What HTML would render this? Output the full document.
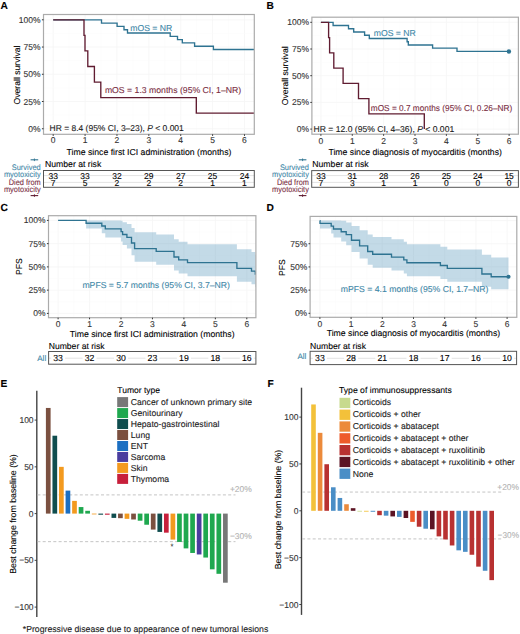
<!DOCTYPE html><html><head><meta charset="utf-8"><style>html,body{margin:0;padding:0;background:#fff;overflow:hidden}svg{display:block}text{font-family:"Liberation Sans",sans-serif;text-rendering:geometricPrecision}</style></head><body>
<svg width="520" height="634" viewBox="0 0 520 634">
<rect width="520" height="634" fill="#fff"/>
<line x1="53.20" y1="14.50" x2="53.20" y2="134.30" stroke="#f5f5f5" stroke-width="0.8"/>
<line x1="69.14" y1="14.50" x2="69.14" y2="134.30" stroke="#fafafa" stroke-width="0.5"/>
<line x1="85.08" y1="14.50" x2="85.08" y2="134.30" stroke="#f5f5f5" stroke-width="0.8"/>
<line x1="101.02" y1="14.50" x2="101.02" y2="134.30" stroke="#fafafa" stroke-width="0.5"/>
<line x1="116.96" y1="14.50" x2="116.96" y2="134.30" stroke="#f5f5f5" stroke-width="0.8"/>
<line x1="132.90" y1="14.50" x2="132.90" y2="134.30" stroke="#fafafa" stroke-width="0.5"/>
<line x1="148.84" y1="14.50" x2="148.84" y2="134.30" stroke="#f5f5f5" stroke-width="0.8"/>
<line x1="164.78" y1="14.50" x2="164.78" y2="134.30" stroke="#fafafa" stroke-width="0.5"/>
<line x1="180.72" y1="14.50" x2="180.72" y2="134.30" stroke="#f5f5f5" stroke-width="0.8"/>
<line x1="196.66" y1="14.50" x2="196.66" y2="134.30" stroke="#fafafa" stroke-width="0.5"/>
<line x1="212.60" y1="14.50" x2="212.60" y2="134.30" stroke="#f5f5f5" stroke-width="0.8"/>
<line x1="228.54" y1="14.50" x2="228.54" y2="134.30" stroke="#fafafa" stroke-width="0.5"/>
<line x1="244.48" y1="14.50" x2="244.48" y2="134.30" stroke="#f5f5f5" stroke-width="0.8"/>
<line x1="43.50" y1="128.75" x2="254.30" y2="128.75" stroke="#f5f5f5" stroke-width="0.8"/>
<line x1="43.50" y1="115.13" x2="254.30" y2="115.13" stroke="#fafafa" stroke-width="0.5"/>
<line x1="43.50" y1="101.51" x2="254.30" y2="101.51" stroke="#f5f5f5" stroke-width="0.8"/>
<line x1="43.50" y1="87.89" x2="254.30" y2="87.89" stroke="#fafafa" stroke-width="0.5"/>
<line x1="43.50" y1="74.28" x2="254.30" y2="74.28" stroke="#f5f5f5" stroke-width="0.8"/>
<line x1="43.50" y1="60.66" x2="254.30" y2="60.66" stroke="#fafafa" stroke-width="0.5"/>
<line x1="43.50" y1="47.04" x2="254.30" y2="47.04" stroke="#f5f5f5" stroke-width="0.8"/>
<line x1="43.50" y1="33.42" x2="254.30" y2="33.42" stroke="#fafafa" stroke-width="0.5"/>
<line x1="43.50" y1="19.80" x2="254.30" y2="19.80" stroke="#f5f5f5" stroke-width="0.8"/>
<clipPath id="cA"><rect x="43.5" y="14.5" width="210.8" height="119.80000000000001"/></clipPath>
<path d="M53.20,19.80 H101.50 V23.10 H117.10 V26.40 H124.00 V29.70 H127.50 V33.01 H170.20 V36.31 H177.50 V39.61 H182.30 V42.91 H194.60 V46.21 H213.40 V49.51 H254.30" fill="none" stroke="#2e7391" stroke-width="1.35" clip-path="url(#cA)"/>
<path d="M53.20,19.80 H84.00 V35.36 H85.00 V50.93 H87.80 V66.49 H94.40 V82.06 H100.80 V97.62 H196.30 V113.19 H254.30" fill="none" stroke="#601c31" stroke-width="1.35" clip-path="url(#cA)"/>
<rect x="43.50" y="14.50" width="210.80" height="119.80" fill="none" stroke="#ababab" stroke-width="1.2"/>
<line x1="41.90" y1="128.75" x2="43.50" y2="128.75" stroke="#333" stroke-width="1.0"/>
<text x="40.60" y="131.75" font-size="8.5" fill="#333333" stroke="#333333" stroke-width="0.1" text-anchor="end">0%</text>
<line x1="41.90" y1="101.51" x2="43.50" y2="101.51" stroke="#333" stroke-width="1.0"/>
<text x="40.60" y="104.51" font-size="8.5" fill="#333333" stroke="#333333" stroke-width="0.1" text-anchor="end">25%</text>
<line x1="41.90" y1="74.28" x2="43.50" y2="74.28" stroke="#333" stroke-width="1.0"/>
<text x="40.60" y="77.28" font-size="8.5" fill="#333333" stroke="#333333" stroke-width="0.1" text-anchor="end">50%</text>
<line x1="41.90" y1="47.04" x2="43.50" y2="47.04" stroke="#333" stroke-width="1.0"/>
<text x="40.60" y="50.04" font-size="8.5" fill="#333333" stroke="#333333" stroke-width="0.1" text-anchor="end">75%</text>
<line x1="41.90" y1="19.80" x2="43.50" y2="19.80" stroke="#333" stroke-width="1.0"/>
<text x="40.60" y="22.80" font-size="8.5" fill="#333333" stroke="#333333" stroke-width="0.1" text-anchor="end">100%</text>
<line x1="53.20" y1="134.30" x2="53.20" y2="135.90" stroke="#333" stroke-width="1.0"/>
<text x="53.20" y="143.20" font-size="8.5" fill="#333333" stroke="#333333" stroke-width="0.1" text-anchor="middle">0</text>
<line x1="85.08" y1="134.30" x2="85.08" y2="135.90" stroke="#333" stroke-width="1.0"/>
<text x="85.08" y="143.20" font-size="8.5" fill="#333333" stroke="#333333" stroke-width="0.1" text-anchor="middle">1</text>
<line x1="116.96" y1="134.30" x2="116.96" y2="135.90" stroke="#333" stroke-width="1.0"/>
<text x="116.96" y="143.20" font-size="8.5" fill="#333333" stroke="#333333" stroke-width="0.1" text-anchor="middle">2</text>
<line x1="148.84" y1="134.30" x2="148.84" y2="135.90" stroke="#333" stroke-width="1.0"/>
<text x="148.84" y="143.20" font-size="8.5" fill="#333333" stroke="#333333" stroke-width="0.1" text-anchor="middle">3</text>
<line x1="180.72" y1="134.30" x2="180.72" y2="135.90" stroke="#333" stroke-width="1.0"/>
<text x="180.72" y="143.20" font-size="8.5" fill="#333333" stroke="#333333" stroke-width="0.1" text-anchor="middle">4</text>
<line x1="212.60" y1="134.30" x2="212.60" y2="135.90" stroke="#333" stroke-width="1.0"/>
<text x="212.60" y="143.20" font-size="8.5" fill="#333333" stroke="#333333" stroke-width="0.1" text-anchor="middle">5</text>
<line x1="244.48" y1="134.30" x2="244.48" y2="135.90" stroke="#333" stroke-width="1.0"/>
<text x="244.48" y="143.20" font-size="8.5" fill="#333333" stroke="#333333" stroke-width="0.1" text-anchor="middle">6</text>
<text x="130.20" y="30.50" font-size="8.65" fill="#3f88a8" stroke="#3f88a8" stroke-width="0.1" textLength="42.1" lengthAdjust="spacingAndGlyphs">mOS = NR</text>
<text x="104.90" y="93.00" font-size="8.65" fill="#7a2d42" stroke="#7a2d42" stroke-width="0.1" textLength="136.3" lengthAdjust="spacingAndGlyphs">mOS = 1.3 months (95% CI, 1–NR)</text>
<text x="49.60" y="131.20" font-size="8.55" fill="#1a1a1a" stroke="#1a1a1a" stroke-width="0.1" textLength="134.2" lengthAdjust="spacingAndGlyphs">HR = 8.4 (95% CI, 3–23), <tspan font-style="italic">P</tspan> &lt; 0.001</text>
<text x="149.00" y="155.40" font-size="8.69" fill="#000" stroke="#000" stroke-width="0.1" text-anchor="middle" textLength="164.8" lengthAdjust="spacingAndGlyphs">Time since first ICI administration (months)</text>
<text x="19.90" y="75.00" font-size="8.62" fill="#000" stroke="#000" stroke-width="0.1" text-anchor="middle" textLength="58.9" lengthAdjust="spacingAndGlyphs" transform="rotate(-90 19.90 75.00)">Overall survival</text>
<text x="0.60" y="9.10" font-size="10.2" fill="#000" stroke="#000" stroke-width="0.1" font-weight="bold">A</text>
<text x="45.00" y="167.20" font-size="8.66" fill="#000" stroke="#000" stroke-width="0.1">Number at risk</text>
<line x1="43.50" y1="175.60" x2="254.30" y2="175.60" stroke="#cfcfcf" stroke-width="0.6"/>
<line x1="43.50" y1="182.40" x2="254.30" y2="182.40" stroke="#cfcfcf" stroke-width="0.6"/>
<rect x="43.50" y="170.50" width="210.80" height="16.80" fill="none" stroke="#555" stroke-width="1.0"/>
<text x="53.20" y="178.60" font-size="8.5" fill="#000" stroke="#000" stroke-width="0.1" text-anchor="middle">33</text>
<text x="53.20" y="185.60" font-size="8.5" fill="#000" stroke="#000" stroke-width="0.1" text-anchor="middle">7</text>
<text x="85.08" y="178.60" font-size="8.5" fill="#000" stroke="#000" stroke-width="0.1" text-anchor="middle">33</text>
<text x="85.08" y="185.60" font-size="8.5" fill="#000" stroke="#000" stroke-width="0.1" text-anchor="middle">5</text>
<text x="116.96" y="178.60" font-size="8.5" fill="#000" stroke="#000" stroke-width="0.1" text-anchor="middle">32</text>
<text x="116.96" y="185.60" font-size="8.5" fill="#000" stroke="#000" stroke-width="0.1" text-anchor="middle">2</text>
<text x="148.84" y="178.60" font-size="8.5" fill="#000" stroke="#000" stroke-width="0.1" text-anchor="middle">29</text>
<text x="148.84" y="185.60" font-size="8.5" fill="#000" stroke="#000" stroke-width="0.1" text-anchor="middle">2</text>
<text x="180.72" y="178.60" font-size="8.5" fill="#000" stroke="#000" stroke-width="0.1" text-anchor="middle">27</text>
<text x="180.72" y="185.60" font-size="8.5" fill="#000" stroke="#000" stroke-width="0.1" text-anchor="middle">2</text>
<text x="212.60" y="178.60" font-size="8.5" fill="#000" stroke="#000" stroke-width="0.1" text-anchor="middle">25</text>
<text x="212.60" y="185.60" font-size="8.5" fill="#000" stroke="#000" stroke-width="0.1" text-anchor="middle">1</text>
<text x="244.48" y="178.60" font-size="8.5" fill="#000" stroke="#000" stroke-width="0.1" text-anchor="middle">24</text>
<text x="244.48" y="185.60" font-size="8.5" fill="#000" stroke="#000" stroke-width="0.1" text-anchor="middle">1</text>
<text x="11.70" y="169.80" font-size="8.1" fill="#3f88a8" stroke="#3f88a8" stroke-width="0.1" textLength="29.0" lengthAdjust="spacingAndGlyphs">Survived</text>
<text x="3.90" y="176.60" font-size="8.1" fill="#3f88a8" stroke="#3f88a8" stroke-width="0.1" textLength="36.8" lengthAdjust="spacingAndGlyphs">myotoxicity</text>
<text x="8.70" y="185.00" font-size="8.1" fill="#7a2d42" stroke="#7a2d42" stroke-width="0.1" textLength="32.0" lengthAdjust="spacingAndGlyphs">Died from</text>
<text x="3.90" y="191.60" font-size="8.1" fill="#7a2d42" stroke="#7a2d42" stroke-width="0.1" textLength="36.8" lengthAdjust="spacingAndGlyphs">myotoxicity</text>
<line x1="30.60" y1="159.80" x2="38.20" y2="159.80" stroke="#2e7391" stroke-width="1.1"/>
<line x1="34.40" y1="158.50" x2="34.40" y2="161.10" stroke="#2e7391" stroke-width="0.9"/>
<line x1="30.60" y1="195.60" x2="38.20" y2="195.60" stroke="#601c31" stroke-width="1.1"/>
<line x1="34.40" y1="194.30" x2="34.40" y2="196.90" stroke="#601c31" stroke-width="0.9"/>
<line x1="320.90" y1="17.20" x2="320.90" y2="134.20" stroke="#f5f5f5" stroke-width="0.8"/>
<line x1="336.58" y1="17.20" x2="336.58" y2="134.20" stroke="#fafafa" stroke-width="0.5"/>
<line x1="352.27" y1="17.20" x2="352.27" y2="134.20" stroke="#f5f5f5" stroke-width="0.8"/>
<line x1="367.95" y1="17.20" x2="367.95" y2="134.20" stroke="#fafafa" stroke-width="0.5"/>
<line x1="383.64" y1="17.20" x2="383.64" y2="134.20" stroke="#f5f5f5" stroke-width="0.8"/>
<line x1="399.32" y1="17.20" x2="399.32" y2="134.20" stroke="#fafafa" stroke-width="0.5"/>
<line x1="415.01" y1="17.20" x2="415.01" y2="134.20" stroke="#f5f5f5" stroke-width="0.8"/>
<line x1="430.69" y1="17.20" x2="430.69" y2="134.20" stroke="#fafafa" stroke-width="0.5"/>
<line x1="446.38" y1="17.20" x2="446.38" y2="134.20" stroke="#f5f5f5" stroke-width="0.8"/>
<line x1="462.06" y1="17.20" x2="462.06" y2="134.20" stroke="#fafafa" stroke-width="0.5"/>
<line x1="477.75" y1="17.20" x2="477.75" y2="134.20" stroke="#f5f5f5" stroke-width="0.8"/>
<line x1="493.43" y1="17.20" x2="493.43" y2="134.20" stroke="#fafafa" stroke-width="0.5"/>
<line x1="509.12" y1="17.20" x2="509.12" y2="134.20" stroke="#f5f5f5" stroke-width="0.8"/>
<line x1="311.90" y1="129.10" x2="518.40" y2="129.10" stroke="#f5f5f5" stroke-width="0.8"/>
<line x1="311.90" y1="115.75" x2="518.40" y2="115.75" stroke="#fafafa" stroke-width="0.5"/>
<line x1="311.90" y1="102.40" x2="518.40" y2="102.40" stroke="#f5f5f5" stroke-width="0.8"/>
<line x1="311.90" y1="89.05" x2="518.40" y2="89.05" stroke="#fafafa" stroke-width="0.5"/>
<line x1="311.90" y1="75.70" x2="518.40" y2="75.70" stroke="#f5f5f5" stroke-width="0.8"/>
<line x1="311.90" y1="62.35" x2="518.40" y2="62.35" stroke="#fafafa" stroke-width="0.5"/>
<line x1="311.90" y1="49.00" x2="518.40" y2="49.00" stroke="#f5f5f5" stroke-width="0.8"/>
<line x1="311.90" y1="35.65" x2="518.40" y2="35.65" stroke="#fafafa" stroke-width="0.5"/>
<line x1="311.90" y1="22.30" x2="518.40" y2="22.30" stroke="#f5f5f5" stroke-width="0.8"/>
<clipPath id="cB"><rect x="311.9" y="17.2" width="206.5" height="116.99999999999999"/></clipPath>
<path d="M320.90,22.30 H333.10 V25.54 H348.50 V28.77 H353.70 V32.01 H364.60 V35.25 H369.30 V38.48 H407.10 V41.72 H408.30 V44.95 H432.60 V48.19 H457.00 V51.43 H508.90" fill="none" stroke="#2e7391" stroke-width="1.35"/>
<circle cx="508.9" cy="51.43" r="2.2" fill="#2e7391"/>
<path d="M320.90,22.30 H328.60 V37.56 H329.60 V52.81 H333.80 V68.07 H343.10 V83.33 H358.50 V98.59 H368.90 V113.84 H424.30 V129.10" fill="none" stroke="#601c31" stroke-width="1.35"/>
<rect x="311.90" y="17.20" width="206.50" height="117.00" fill="none" stroke="#ababab" stroke-width="1.2"/>
<line x1="310.30" y1="129.10" x2="311.90" y2="129.10" stroke="#333" stroke-width="1.0"/>
<text x="309.00" y="132.10" font-size="8.5" fill="#333333" stroke="#333333" stroke-width="0.1" text-anchor="end">0%</text>
<line x1="310.30" y1="102.40" x2="311.90" y2="102.40" stroke="#333" stroke-width="1.0"/>
<text x="309.00" y="105.40" font-size="8.5" fill="#333333" stroke="#333333" stroke-width="0.1" text-anchor="end">25%</text>
<line x1="310.30" y1="75.70" x2="311.90" y2="75.70" stroke="#333" stroke-width="1.0"/>
<text x="309.00" y="78.70" font-size="8.5" fill="#333333" stroke="#333333" stroke-width="0.1" text-anchor="end">50%</text>
<line x1="310.30" y1="49.00" x2="311.90" y2="49.00" stroke="#333" stroke-width="1.0"/>
<text x="309.00" y="52.00" font-size="8.5" fill="#333333" stroke="#333333" stroke-width="0.1" text-anchor="end">75%</text>
<line x1="310.30" y1="22.30" x2="311.90" y2="22.30" stroke="#333" stroke-width="1.0"/>
<text x="309.00" y="25.30" font-size="8.5" fill="#333333" stroke="#333333" stroke-width="0.1" text-anchor="end">100%</text>
<line x1="320.90" y1="134.20" x2="320.90" y2="135.80" stroke="#333" stroke-width="1.0"/>
<text x="320.90" y="144.20" font-size="8.5" fill="#333333" stroke="#333333" stroke-width="0.1" text-anchor="middle">0</text>
<line x1="352.27" y1="134.20" x2="352.27" y2="135.80" stroke="#333" stroke-width="1.0"/>
<text x="352.27" y="144.20" font-size="8.5" fill="#333333" stroke="#333333" stroke-width="0.1" text-anchor="middle">1</text>
<line x1="383.64" y1="134.20" x2="383.64" y2="135.80" stroke="#333" stroke-width="1.0"/>
<text x="383.64" y="144.20" font-size="8.5" fill="#333333" stroke="#333333" stroke-width="0.1" text-anchor="middle">2</text>
<line x1="415.01" y1="134.20" x2="415.01" y2="135.80" stroke="#333" stroke-width="1.0"/>
<text x="415.01" y="144.20" font-size="8.5" fill="#333333" stroke="#333333" stroke-width="0.1" text-anchor="middle">3</text>
<line x1="446.38" y1="134.20" x2="446.38" y2="135.80" stroke="#333" stroke-width="1.0"/>
<text x="446.38" y="144.20" font-size="8.5" fill="#333333" stroke="#333333" stroke-width="0.1" text-anchor="middle">4</text>
<line x1="477.75" y1="134.20" x2="477.75" y2="135.80" stroke="#333" stroke-width="1.0"/>
<text x="477.75" y="144.20" font-size="8.5" fill="#333333" stroke="#333333" stroke-width="0.1" text-anchor="middle">5</text>
<line x1="509.12" y1="134.20" x2="509.12" y2="135.80" stroke="#333" stroke-width="1.0"/>
<text x="509.12" y="144.20" font-size="8.5" fill="#333333" stroke="#333333" stroke-width="0.1" text-anchor="middle">6</text>
<text x="373.70" y="35.60" font-size="8.65" fill="#3f88a8" stroke="#3f88a8" stroke-width="0.1" textLength="42.1" lengthAdjust="spacingAndGlyphs">mOS = NR</text>
<text x="370.80" y="110.60" font-size="8.65" fill="#7a2d42" stroke="#7a2d42" stroke-width="0.1" textLength="141.4" lengthAdjust="spacingAndGlyphs">mOS = 0.7 months (95% CI, 0.26–NR)</text>
<text x="313.60" y="131.80" font-size="8.55" fill="#1a1a1a" stroke="#1a1a1a" stroke-width="0.1" textLength="140.6" lengthAdjust="spacingAndGlyphs">HR = 12.0 (95% CI, 4–36), <tspan font-style="italic">P</tspan> &lt; 0.001</text>
<text x="415.20" y="155.10" font-size="8.69" fill="#000" stroke="#000" stroke-width="0.1" text-anchor="middle" textLength="173.5" lengthAdjust="spacingAndGlyphs">Time since diagnosis of myocarditis (months)</text>
<text x="288.40" y="75.70" font-size="8.62" fill="#000" stroke="#000" stroke-width="0.1" text-anchor="middle" textLength="58.9" lengthAdjust="spacingAndGlyphs" transform="rotate(-90 288.40 75.70)">Overall survival</text>
<text x="266.40" y="9.10" font-size="10.2" fill="#000" stroke="#000" stroke-width="0.1" font-weight="bold">B</text>
<text x="312.30" y="166.90" font-size="8.66" fill="#000" stroke="#000" stroke-width="0.1">Number at risk</text>
<line x1="311.70" y1="175.60" x2="518.40" y2="175.60" stroke="#cfcfcf" stroke-width="0.6"/>
<line x1="311.70" y1="182.40" x2="518.40" y2="182.40" stroke="#cfcfcf" stroke-width="0.6"/>
<rect x="311.70" y="170.60" width="206.70" height="16.70" fill="none" stroke="#555" stroke-width="1.0"/>
<text x="320.90" y="178.60" font-size="8.5" fill="#000" stroke="#000" stroke-width="0.1" text-anchor="middle">33</text>
<text x="320.90" y="185.60" font-size="8.5" fill="#000" stroke="#000" stroke-width="0.1" text-anchor="middle">7</text>
<text x="352.27" y="178.60" font-size="8.5" fill="#000" stroke="#000" stroke-width="0.1" text-anchor="middle">31</text>
<text x="352.27" y="185.60" font-size="8.5" fill="#000" stroke="#000" stroke-width="0.1" text-anchor="middle">3</text>
<text x="383.64" y="178.60" font-size="8.5" fill="#000" stroke="#000" stroke-width="0.1" text-anchor="middle">28</text>
<text x="383.64" y="185.60" font-size="8.5" fill="#000" stroke="#000" stroke-width="0.1" text-anchor="middle">1</text>
<text x="415.01" y="178.60" font-size="8.5" fill="#000" stroke="#000" stroke-width="0.1" text-anchor="middle">26</text>
<text x="415.01" y="185.60" font-size="8.5" fill="#000" stroke="#000" stroke-width="0.1" text-anchor="middle">1</text>
<text x="446.38" y="178.60" font-size="8.5" fill="#000" stroke="#000" stroke-width="0.1" text-anchor="middle">25</text>
<text x="446.38" y="185.60" font-size="8.5" fill="#000" stroke="#000" stroke-width="0.1" text-anchor="middle">0</text>
<text x="477.75" y="178.60" font-size="8.5" fill="#000" stroke="#000" stroke-width="0.1" text-anchor="middle">24</text>
<text x="477.75" y="185.60" font-size="8.5" fill="#000" stroke="#000" stroke-width="0.1" text-anchor="middle">0</text>
<text x="509.12" y="178.60" font-size="8.5" fill="#000" stroke="#000" stroke-width="0.1" text-anchor="middle">15</text>
<text x="509.12" y="185.60" font-size="8.5" fill="#000" stroke="#000" stroke-width="0.1" text-anchor="middle">0</text>
<text x="279.90" y="169.80" font-size="8.1" fill="#3f88a8" stroke="#3f88a8" stroke-width="0.1" textLength="29.0" lengthAdjust="spacingAndGlyphs">Survived</text>
<text x="272.10" y="176.60" font-size="8.1" fill="#3f88a8" stroke="#3f88a8" stroke-width="0.1" textLength="36.8" lengthAdjust="spacingAndGlyphs">myotoxicity</text>
<text x="276.90" y="185.00" font-size="8.1" fill="#7a2d42" stroke="#7a2d42" stroke-width="0.1" textLength="32.0" lengthAdjust="spacingAndGlyphs">Died from</text>
<text x="272.10" y="191.60" font-size="8.1" fill="#7a2d42" stroke="#7a2d42" stroke-width="0.1" textLength="36.8" lengthAdjust="spacingAndGlyphs">myotoxicity</text>
<line x1="298.80" y1="159.80" x2="306.40" y2="159.80" stroke="#2e7391" stroke-width="1.1"/>
<line x1="302.60" y1="158.50" x2="302.60" y2="161.10" stroke="#2e7391" stroke-width="0.9"/>
<line x1="298.80" y1="195.60" x2="306.40" y2="195.60" stroke="#601c31" stroke-width="1.1"/>
<line x1="302.60" y1="194.30" x2="302.60" y2="196.90" stroke="#601c31" stroke-width="0.9"/>
<line x1="58.10" y1="215.70" x2="58.10" y2="317.70" stroke="#f5f5f5" stroke-width="0.8"/>
<line x1="73.83" y1="215.70" x2="73.83" y2="317.70" stroke="#fafafa" stroke-width="0.5"/>
<line x1="89.55" y1="215.70" x2="89.55" y2="317.70" stroke="#f5f5f5" stroke-width="0.8"/>
<line x1="105.28" y1="215.70" x2="105.28" y2="317.70" stroke="#fafafa" stroke-width="0.5"/>
<line x1="121.00" y1="215.70" x2="121.00" y2="317.70" stroke="#f5f5f5" stroke-width="0.8"/>
<line x1="136.72" y1="215.70" x2="136.72" y2="317.70" stroke="#fafafa" stroke-width="0.5"/>
<line x1="152.45" y1="215.70" x2="152.45" y2="317.70" stroke="#f5f5f5" stroke-width="0.8"/>
<line x1="168.18" y1="215.70" x2="168.18" y2="317.70" stroke="#fafafa" stroke-width="0.5"/>
<line x1="183.90" y1="215.70" x2="183.90" y2="317.70" stroke="#f5f5f5" stroke-width="0.8"/>
<line x1="199.62" y1="215.70" x2="199.62" y2="317.70" stroke="#fafafa" stroke-width="0.5"/>
<line x1="215.35" y1="215.70" x2="215.35" y2="317.70" stroke="#f5f5f5" stroke-width="0.8"/>
<line x1="231.07" y1="215.70" x2="231.07" y2="317.70" stroke="#fafafa" stroke-width="0.5"/>
<line x1="246.80" y1="215.70" x2="246.80" y2="317.70" stroke="#f5f5f5" stroke-width="0.8"/>
<line x1="48.50" y1="313.40" x2="255.90" y2="313.40" stroke="#f5f5f5" stroke-width="0.8"/>
<line x1="48.50" y1="301.77" x2="255.90" y2="301.77" stroke="#fafafa" stroke-width="0.5"/>
<line x1="48.50" y1="290.15" x2="255.90" y2="290.15" stroke="#f5f5f5" stroke-width="0.8"/>
<line x1="48.50" y1="278.52" x2="255.90" y2="278.52" stroke="#fafafa" stroke-width="0.5"/>
<line x1="48.50" y1="266.90" x2="255.90" y2="266.90" stroke="#f5f5f5" stroke-width="0.8"/>
<line x1="48.50" y1="255.27" x2="255.90" y2="255.27" stroke="#fafafa" stroke-width="0.5"/>
<line x1="48.50" y1="243.65" x2="255.90" y2="243.65" stroke="#f5f5f5" stroke-width="0.8"/>
<line x1="48.50" y1="232.03" x2="255.90" y2="232.03" stroke="#fafafa" stroke-width="0.5"/>
<line x1="48.50" y1="220.40" x2="255.90" y2="220.40" stroke="#f5f5f5" stroke-width="0.8"/>
<clipPath id="cC"><rect x="48.5" y="215.7" width="207.4" height="102.0"/></clipPath>
<path d="M58.10,220.40 L86.10,220.40 L86.10,220.40 L101.80,220.40 L101.80,220.40 L105.30,220.40 L105.30,220.40 L121.10,220.40 L121.10,220.63 L122.60,220.63 L122.60,222.25 L126.90,222.25 L126.90,224.03 L131.50,224.03 L131.50,227.95 L134.60,227.95 L134.60,232.23 L156.20,232.23 L156.20,234.48 L174.00,234.48 L174.00,239.19 L178.70,239.19 L178.70,241.63 L187.50,241.63 L187.50,244.14 L236.90,244.14 L236.90,249.30 L251.50,249.30 L251.50,251.97 L255.30,251.97 L255.30,254.69 L255.90,254.69 L255.90,286.89 L255.30,286.89 L255.30,284.31 L251.50,284.31 L251.50,281.68 L236.90,281.68 L236.90,276.25 L187.50,276.25 L187.50,273.45 L178.70,273.45 L178.70,270.59 L174.00,270.59 L174.00,264.69 L156.20,264.69 L156.20,261.64 L134.60,261.64 L134.60,255.31 L131.50,255.31 L131.50,248.61 L126.90,248.61 L126.90,245.09 L122.60,245.09 L122.60,241.40 L121.10,241.40 L121.10,237.50 L105.30,237.50 L105.30,233.29 L101.80,233.29 L101.80,228.50 L86.10,228.50 L86.10,220.40 L58.10,220.40 Z" fill="#4a8fb5" fill-opacity="0.33" clip-path="url(#cC)"/>
<path d="M58.10,220.40 H86.10 V223.22 H101.80 V226.04 H105.30 V228.85 H121.10 V231.67 H122.60 V234.49 H126.90 V237.31 H131.50 V242.95 H134.60 V248.58 H156.20 V251.40 H174.00 V257.04 H178.70 V259.85 H187.50 V262.67 H236.90 V268.31 H251.50 V271.13 H255.30 V273.95 H255.90" fill="none" stroke="#2e7391" stroke-width="1.35" clip-path="url(#cC)"/>
<rect x="48.50" y="215.70" width="207.40" height="102.00" fill="none" stroke="#ababab" stroke-width="1.2"/>
<line x1="46.90" y1="313.40" x2="48.50" y2="313.40" stroke="#333" stroke-width="1.0"/>
<text x="45.60" y="316.40" font-size="8.5" fill="#333333" stroke="#333333" stroke-width="0.1" text-anchor="end">0%</text>
<line x1="46.90" y1="290.15" x2="48.50" y2="290.15" stroke="#333" stroke-width="1.0"/>
<text x="45.60" y="293.15" font-size="8.5" fill="#333333" stroke="#333333" stroke-width="0.1" text-anchor="end">25%</text>
<line x1="46.90" y1="266.90" x2="48.50" y2="266.90" stroke="#333" stroke-width="1.0"/>
<text x="45.60" y="269.90" font-size="8.5" fill="#333333" stroke="#333333" stroke-width="0.1" text-anchor="end">50%</text>
<line x1="46.90" y1="243.65" x2="48.50" y2="243.65" stroke="#333" stroke-width="1.0"/>
<text x="45.60" y="246.65" font-size="8.5" fill="#333333" stroke="#333333" stroke-width="0.1" text-anchor="end">75%</text>
<line x1="46.90" y1="220.40" x2="48.50" y2="220.40" stroke="#333" stroke-width="1.0"/>
<text x="45.60" y="223.40" font-size="8.5" fill="#333333" stroke="#333333" stroke-width="0.1" text-anchor="end">100%</text>
<line x1="58.10" y1="317.70" x2="58.10" y2="319.30" stroke="#333" stroke-width="1.0"/>
<text x="58.10" y="327.20" font-size="8.5" fill="#333333" stroke="#333333" stroke-width="0.1" text-anchor="middle">0</text>
<line x1="89.55" y1="317.70" x2="89.55" y2="319.30" stroke="#333" stroke-width="1.0"/>
<text x="89.55" y="327.20" font-size="8.5" fill="#333333" stroke="#333333" stroke-width="0.1" text-anchor="middle">1</text>
<line x1="121.00" y1="317.70" x2="121.00" y2="319.30" stroke="#333" stroke-width="1.0"/>
<text x="121.00" y="327.20" font-size="8.5" fill="#333333" stroke="#333333" stroke-width="0.1" text-anchor="middle">2</text>
<line x1="152.45" y1="317.70" x2="152.45" y2="319.30" stroke="#333" stroke-width="1.0"/>
<text x="152.45" y="327.20" font-size="8.5" fill="#333333" stroke="#333333" stroke-width="0.1" text-anchor="middle">3</text>
<line x1="183.90" y1="317.70" x2="183.90" y2="319.30" stroke="#333" stroke-width="1.0"/>
<text x="183.90" y="327.20" font-size="8.5" fill="#333333" stroke="#333333" stroke-width="0.1" text-anchor="middle">4</text>
<line x1="215.35" y1="317.70" x2="215.35" y2="319.30" stroke="#333" stroke-width="1.0"/>
<text x="215.35" y="327.20" font-size="8.5" fill="#333333" stroke="#333333" stroke-width="0.1" text-anchor="middle">5</text>
<line x1="246.80" y1="317.70" x2="246.80" y2="319.30" stroke="#333" stroke-width="1.0"/>
<text x="246.80" y="327.20" font-size="8.5" fill="#333333" stroke="#333333" stroke-width="0.1" text-anchor="middle">6</text>
<text x="82.40" y="288.10" font-size="8.65" fill="#3f88a8" stroke="#3f88a8" stroke-width="0.1" textLength="147.6" lengthAdjust="spacingAndGlyphs">mPFS = 5.7 months (95% CI, 3.7–NR)</text>
<text x="152.20" y="336.60" font-size="8.69" fill="#000" stroke="#000" stroke-width="0.1" text-anchor="middle" textLength="164.8" lengthAdjust="spacingAndGlyphs">Time since first ICI administration (months)</text>
<text x="22.20" y="266.70" font-size="8.62" fill="#000" stroke="#000" stroke-width="0.1" text-anchor="middle" transform="rotate(-90 22.20 266.70)">PFS</text>
<text x="0.60" y="211.20" font-size="10.2" fill="#000" stroke="#000" stroke-width="0.1" font-weight="bold">C</text>
<text x="48.70" y="349.20" font-size="8.6" fill="#000" stroke="#000" stroke-width="0.1">Number at risk</text>
<line x1="48.60" y1="358.20" x2="255.90" y2="358.20" stroke="#cfcfcf" stroke-width="0.6"/>
<rect x="51.10" y="354.70" width="14.00" height="7.00" fill="#fff"/>
<rect x="82.55" y="354.70" width="14.00" height="7.00" fill="#fff"/>
<rect x="114.00" y="354.70" width="14.00" height="7.00" fill="#fff"/>
<rect x="145.45" y="354.70" width="14.00" height="7.00" fill="#fff"/>
<rect x="176.90" y="354.70" width="14.00" height="7.00" fill="#fff"/>
<rect x="208.35" y="354.70" width="14.00" height="7.00" fill="#fff"/>
<rect x="239.80" y="354.70" width="14.00" height="7.00" fill="#fff"/>
<rect x="48.60" y="351.50" width="207.30" height="12.70" fill="none" stroke="#555" stroke-width="1.0"/>
<text x="58.10" y="360.90" font-size="8.7" fill="#000" stroke="#000" stroke-width="0.1" text-anchor="middle">33</text>
<text x="89.55" y="360.90" font-size="8.7" fill="#000" stroke="#000" stroke-width="0.1" text-anchor="middle">32</text>
<text x="121.00" y="360.90" font-size="8.7" fill="#000" stroke="#000" stroke-width="0.1" text-anchor="middle">30</text>
<text x="152.45" y="360.90" font-size="8.7" fill="#000" stroke="#000" stroke-width="0.1" text-anchor="middle">23</text>
<text x="183.90" y="360.90" font-size="8.7" fill="#000" stroke="#000" stroke-width="0.1" text-anchor="middle">19</text>
<text x="215.35" y="360.90" font-size="8.7" fill="#000" stroke="#000" stroke-width="0.1" text-anchor="middle">18</text>
<text x="246.80" y="360.90" font-size="8.7" fill="#000" stroke="#000" stroke-width="0.1" text-anchor="middle">16</text>
<text x="46.20" y="361.00" font-size="8.1" fill="#3f88a8" stroke="#3f88a8" stroke-width="0.1" text-anchor="end">All</text>
<line x1="319.90" y1="216.40" x2="319.90" y2="317.30" stroke="#f5f5f5" stroke-width="0.8"/>
<line x1="335.50" y1="216.40" x2="335.50" y2="317.30" stroke="#fafafa" stroke-width="0.5"/>
<line x1="351.10" y1="216.40" x2="351.10" y2="317.30" stroke="#f5f5f5" stroke-width="0.8"/>
<line x1="366.70" y1="216.40" x2="366.70" y2="317.30" stroke="#fafafa" stroke-width="0.5"/>
<line x1="382.30" y1="216.40" x2="382.30" y2="317.30" stroke="#f5f5f5" stroke-width="0.8"/>
<line x1="397.90" y1="216.40" x2="397.90" y2="317.30" stroke="#fafafa" stroke-width="0.5"/>
<line x1="413.50" y1="216.40" x2="413.50" y2="317.30" stroke="#f5f5f5" stroke-width="0.8"/>
<line x1="429.10" y1="216.40" x2="429.10" y2="317.30" stroke="#fafafa" stroke-width="0.5"/>
<line x1="444.70" y1="216.40" x2="444.70" y2="317.30" stroke="#f5f5f5" stroke-width="0.8"/>
<line x1="460.30" y1="216.40" x2="460.30" y2="317.30" stroke="#fafafa" stroke-width="0.5"/>
<line x1="475.90" y1="216.40" x2="475.90" y2="317.30" stroke="#f5f5f5" stroke-width="0.8"/>
<line x1="491.50" y1="216.40" x2="491.50" y2="317.30" stroke="#fafafa" stroke-width="0.5"/>
<line x1="507.10" y1="216.40" x2="507.10" y2="317.30" stroke="#f5f5f5" stroke-width="0.8"/>
<line x1="310.10" y1="313.30" x2="516.80" y2="313.30" stroke="#f5f5f5" stroke-width="0.8"/>
<line x1="310.10" y1="301.71" x2="516.80" y2="301.71" stroke="#fafafa" stroke-width="0.5"/>
<line x1="310.10" y1="290.11" x2="516.80" y2="290.11" stroke="#f5f5f5" stroke-width="0.8"/>
<line x1="310.10" y1="278.52" x2="516.80" y2="278.52" stroke="#fafafa" stroke-width="0.5"/>
<line x1="310.10" y1="266.93" x2="516.80" y2="266.93" stroke="#f5f5f5" stroke-width="0.8"/>
<line x1="310.10" y1="255.33" x2="516.80" y2="255.33" stroke="#fafafa" stroke-width="0.5"/>
<line x1="310.10" y1="243.74" x2="516.80" y2="243.74" stroke="#f5f5f5" stroke-width="0.8"/>
<line x1="310.10" y1="232.14" x2="516.80" y2="232.14" stroke="#fafafa" stroke-width="0.5"/>
<line x1="310.10" y1="220.55" x2="516.80" y2="220.55" stroke="#f5f5f5" stroke-width="0.8"/>
<clipPath id="cD"><rect x="310.1" y="216.4" width="206.69999999999993" height="100.9"/></clipPath>
<path d="M319.90,220.55 L320.00,220.55 L320.00,220.55 L331.20,220.55 L331.20,220.55 L333.50,220.55 L333.50,220.55 L341.20,220.55 L341.20,220.78 L346.20,220.78 L346.20,222.40 L351.50,222.40 L351.50,226.07 L359.60,226.07 L359.60,230.17 L367.70,230.17 L367.70,234.60 L372.70,234.60 L372.70,236.91 L391.50,236.91 L391.50,239.29 L403.80,239.29 L403.80,241.73 L406.90,241.73 L406.90,244.22 L440.40,244.22 L440.40,246.77 L447.30,246.77 L447.30,249.38 L481.90,249.38 L481.90,254.75 L491.20,254.75 L491.20,257.51 L508.50,257.51 L508.50,289.37 L491.20,289.37 L491.20,286.86 L481.90,286.86 L481.90,281.66 L447.30,281.66 L447.30,278.98 L440.40,278.98 L440.40,276.25 L406.90,276.25 L406.90,273.46 L403.80,273.46 L403.80,270.61 L391.50,270.61 L391.50,267.70 L372.70,267.70 L372.70,264.72 L367.70,264.72 L367.70,258.56 L359.60,258.56 L359.60,252.08 L351.50,252.08 L351.50,245.17 L346.20,245.17 L346.20,241.49 L341.20,241.49 L341.20,237.61 L333.50,237.61 L333.50,233.40 L331.20,233.40 L331.20,228.62 L320.00,228.62 L320.00,220.55 L319.90,220.55 Z" fill="#4a8fb5" fill-opacity="0.33" clip-path="url(#cD)"/>
<path d="M319.90,220.55 H320.00 V223.36 H331.20 V226.17 H333.50 V228.98 H341.20 V231.79 H346.20 V234.60 H351.50 V240.22 H359.60 V245.85 H367.70 V251.47 H372.70 V254.28 H391.50 V257.09 H403.80 V259.90 H406.90 V262.71 H440.40 V265.52 H447.30 V268.33 H481.90 V273.95 H491.20 V276.76 H508.50" fill="none" stroke="#2e7391" stroke-width="1.35" clip-path="url(#cD)"/>
<circle cx="508.50" cy="276.76" r="2.1" fill="#2e7391"/>
<rect x="310.10" y="216.40" width="206.70" height="100.90" fill="none" stroke="#ababab" stroke-width="1.2"/>
<line x1="308.50" y1="313.30" x2="310.10" y2="313.30" stroke="#333" stroke-width="1.0"/>
<text x="307.20" y="316.30" font-size="8.5" fill="#333333" stroke="#333333" stroke-width="0.1" text-anchor="end">0%</text>
<line x1="308.50" y1="290.11" x2="310.10" y2="290.11" stroke="#333" stroke-width="1.0"/>
<text x="307.20" y="293.11" font-size="8.5" fill="#333333" stroke="#333333" stroke-width="0.1" text-anchor="end">25%</text>
<line x1="308.50" y1="266.93" x2="310.10" y2="266.93" stroke="#333" stroke-width="1.0"/>
<text x="307.20" y="269.93" font-size="8.5" fill="#333333" stroke="#333333" stroke-width="0.1" text-anchor="end">50%</text>
<line x1="308.50" y1="243.74" x2="310.10" y2="243.74" stroke="#333" stroke-width="1.0"/>
<text x="307.20" y="246.74" font-size="8.5" fill="#333333" stroke="#333333" stroke-width="0.1" text-anchor="end">75%</text>
<line x1="319.90" y1="317.30" x2="319.90" y2="318.90" stroke="#333" stroke-width="1.0"/>
<text x="319.90" y="327.30" font-size="8.5" fill="#333333" stroke="#333333" stroke-width="0.1" text-anchor="middle">0</text>
<line x1="351.10" y1="317.30" x2="351.10" y2="318.90" stroke="#333" stroke-width="1.0"/>
<text x="351.10" y="327.30" font-size="8.5" fill="#333333" stroke="#333333" stroke-width="0.1" text-anchor="middle">1</text>
<line x1="382.30" y1="317.30" x2="382.30" y2="318.90" stroke="#333" stroke-width="1.0"/>
<text x="382.30" y="327.30" font-size="8.5" fill="#333333" stroke="#333333" stroke-width="0.1" text-anchor="middle">2</text>
<line x1="413.50" y1="317.30" x2="413.50" y2="318.90" stroke="#333" stroke-width="1.0"/>
<text x="413.50" y="327.30" font-size="8.5" fill="#333333" stroke="#333333" stroke-width="0.1" text-anchor="middle">3</text>
<line x1="444.70" y1="317.30" x2="444.70" y2="318.90" stroke="#333" stroke-width="1.0"/>
<text x="444.70" y="327.30" font-size="8.5" fill="#333333" stroke="#333333" stroke-width="0.1" text-anchor="middle">4</text>
<line x1="475.90" y1="317.30" x2="475.90" y2="318.90" stroke="#333" stroke-width="1.0"/>
<text x="475.90" y="327.30" font-size="8.5" fill="#333333" stroke="#333333" stroke-width="0.1" text-anchor="middle">5</text>
<line x1="507.10" y1="317.30" x2="507.10" y2="318.90" stroke="#333" stroke-width="1.0"/>
<text x="507.10" y="327.30" font-size="8.5" fill="#333333" stroke="#333333" stroke-width="0.1" text-anchor="middle">6</text>
<text x="340.80" y="291.90" font-size="8.65" fill="#3f88a8" stroke="#3f88a8" stroke-width="0.1" textLength="147.6" lengthAdjust="spacingAndGlyphs">mPFS = 4.1 months (95% CI, 1.7–NR)</text>
<text x="413.45" y="336.20" font-size="8.69" fill="#000" stroke="#000" stroke-width="0.1" text-anchor="middle" textLength="173.5" lengthAdjust="spacingAndGlyphs">Time since diagnosis of myocarditis (months)</text>
<text x="285.20" y="267.50" font-size="8.62" fill="#000" stroke="#000" stroke-width="0.1" text-anchor="middle" transform="rotate(-90 285.20 267.50)">PFS</text>
<text x="266.40" y="211.10" font-size="10.2" fill="#000" stroke="#000" stroke-width="0.1" font-weight="bold">D</text>
<text x="310.10" y="348.60" font-size="8.6" fill="#000" stroke="#000" stroke-width="0.1">Number at risk</text>
<line x1="310.10" y1="358.30" x2="516.60" y2="358.30" stroke="#cfcfcf" stroke-width="0.6"/>
<rect x="312.90" y="354.80" width="14.00" height="7.00" fill="#fff"/>
<rect x="344.10" y="354.80" width="14.00" height="7.00" fill="#fff"/>
<rect x="375.30" y="354.80" width="14.00" height="7.00" fill="#fff"/>
<rect x="406.50" y="354.80" width="14.00" height="7.00" fill="#fff"/>
<rect x="437.70" y="354.80" width="14.00" height="7.00" fill="#fff"/>
<rect x="468.90" y="354.80" width="14.00" height="7.00" fill="#fff"/>
<rect x="500.10" y="354.80" width="14.00" height="7.00" fill="#fff"/>
<rect x="310.10" y="351.30" width="206.50" height="13.30" fill="none" stroke="#555" stroke-width="1.0"/>
<text x="319.90" y="360.70" font-size="8.7" fill="#000" stroke="#000" stroke-width="0.1" text-anchor="middle">33</text>
<text x="351.10" y="360.70" font-size="8.7" fill="#000" stroke="#000" stroke-width="0.1" text-anchor="middle">28</text>
<text x="382.30" y="360.70" font-size="8.7" fill="#000" stroke="#000" stroke-width="0.1" text-anchor="middle">21</text>
<text x="413.50" y="360.70" font-size="8.7" fill="#000" stroke="#000" stroke-width="0.1" text-anchor="middle">18</text>
<text x="444.70" y="360.70" font-size="8.7" fill="#000" stroke="#000" stroke-width="0.1" text-anchor="middle">17</text>
<text x="475.90" y="360.70" font-size="8.7" fill="#000" stroke="#000" stroke-width="0.1" text-anchor="middle">16</text>
<text x="507.10" y="360.70" font-size="8.7" fill="#000" stroke="#000" stroke-width="0.1" text-anchor="middle">10</text>
<text x="306.40" y="359.30" font-size="8.1" fill="#3f88a8" stroke="#3f88a8" stroke-width="0.1" text-anchor="end">All</text>
<line x1="36.8" y1="390.8" x2="36.8" y2="616.9" stroke="#444" stroke-width="1.4"/>
<line x1="34.60" y1="420.10" x2="36.80" y2="420.10" stroke="#333" stroke-width="0.9"/>
<text x="33.60" y="423.10" font-size="8.5" fill="#333333" stroke="#333333" stroke-width="0.1" text-anchor="end">100</text>
<line x1="34.60" y1="466.85" x2="36.80" y2="466.85" stroke="#333" stroke-width="0.9"/>
<text x="33.60" y="469.85" font-size="8.5" fill="#333333" stroke="#333333" stroke-width="0.1" text-anchor="end">50</text>
<line x1="34.60" y1="513.60" x2="36.80" y2="513.60" stroke="#333" stroke-width="0.9"/>
<text x="33.60" y="516.60" font-size="8.5" fill="#333333" stroke="#333333" stroke-width="0.1" text-anchor="end">0</text>
<line x1="34.60" y1="560.35" x2="36.80" y2="560.35" stroke="#333" stroke-width="0.9"/>
<text x="33.60" y="563.35" font-size="8.5" fill="#333333" stroke="#333333" stroke-width="0.1" text-anchor="end">−50</text>
<line x1="34.60" y1="607.10" x2="36.80" y2="607.10" stroke="#333" stroke-width="0.9"/>
<text x="33.60" y="610.10" font-size="8.5" fill="#333333" stroke="#333333" stroke-width="0.1" text-anchor="end">−100</text>
<line x1="37.40" y1="494.90" x2="235.50" y2="494.90" stroke="#bdbdbd" stroke-width="0.9" stroke-dasharray="3,2.3"/>
<line x1="37.40" y1="541.65" x2="235.50" y2="541.65" stroke="#bdbdbd" stroke-width="0.9" stroke-dasharray="3,2.3"/>
<text x="229.90" y="492.40" font-size="8.47" fill="#b3b3b3" stroke="#b3b3b3" stroke-width="0.1" textLength="21.9" lengthAdjust="spacingAndGlyphs">+20%</text>
<text x="229.90" y="539.20" font-size="8.47" fill="#b3b3b3" stroke="#b3b3b3" stroke-width="0.1" textLength="21.9" lengthAdjust="spacingAndGlyphs">−30%</text>
<rect x="45.90" y="407.95" width="4.70" height="105.65" fill="#7b5040"/>
<rect x="52.46" y="435.71" width="4.70" height="77.89" fill="#0f4d4e"/>
<rect x="59.02" y="466.85" width="4.70" height="46.75" fill="#f39a1f"/>
<rect x="65.58" y="490.60" width="4.70" height="23.00" fill="#1b6fc2"/>
<rect x="72.14" y="500.88" width="4.70" height="12.72" fill="#f39a1f"/>
<rect x="78.70" y="507.06" width="4.70" height="6.55" fill="#1fa84f"/>
<rect x="85.26" y="510.80" width="4.70" height="2.81" fill="#1fa84f"/>
<rect x="91.82" y="513.60" width="4.70" height="0.80" fill="#f39a1f"/>
<rect x="98.38" y="513.60" width="4.70" height="1.12" fill="#0f4d4e"/>
<rect x="104.94" y="513.60" width="4.70" height="1.12" fill="#c71f3b"/>
<rect x="111.50" y="513.60" width="4.70" height="4.30" fill="#0f4d4e"/>
<rect x="118.06" y="513.60" width="4.70" height="4.58" fill="#7b5040"/>
<rect x="124.62" y="513.60" width="4.70" height="5.24" fill="#f39a1f"/>
<rect x="131.18" y="513.60" width="4.70" height="5.89" fill="#7b5040"/>
<rect x="137.74" y="513.60" width="4.70" height="7.11" fill="#1fa84f"/>
<rect x="144.30" y="513.60" width="4.70" height="11.13" fill="#1fa84f"/>
<rect x="150.86" y="513.60" width="4.70" height="15.99" fill="#7b5040"/>
<rect x="157.42" y="513.60" width="4.70" height="18.33" fill="#0f4d4e"/>
<rect x="163.98" y="513.60" width="4.70" height="19.07" fill="#c71f3b"/>
<rect x="170.54" y="513.60" width="4.70" height="25.99" fill="#f39a1f"/>
<rect x="177.10" y="513.60" width="4.70" height="28.33" fill="#1fa84f"/>
<rect x="183.66" y="513.60" width="4.70" height="34.78" fill="#1fa84f"/>
<rect x="190.22" y="513.60" width="4.70" height="39.36" fill="#1fa84f"/>
<rect x="196.78" y="513.60" width="4.70" height="40.86" fill="#4a3d9f"/>
<rect x="203.34" y="513.60" width="4.70" height="43.95" fill="#1fa84f"/>
<rect x="209.90" y="513.60" width="4.70" height="55.73" fill="#1fa84f"/>
<rect x="216.46" y="513.60" width="4.70" height="60.21" fill="#1fa84f"/>
<rect x="223.02" y="513.60" width="4.70" height="69.10" fill="#777777"/>
<text x="171.90" y="548.60" font-size="7.5" fill="#333" stroke="#333" stroke-width="0.1" text-anchor="middle">*</text>
<text x="16.20" y="514.00" font-size="8.7" fill="#000" stroke="#000" stroke-width="0.1" text-anchor="middle" textLength="119.5" lengthAdjust="spacingAndGlyphs" transform="rotate(-90 16.20 514.00)">Best change from baseline (%)</text>
<text x="0.60" y="386.70" font-size="10.2" fill="#000" stroke="#000" stroke-width="0.1" font-weight="bold">E</text>
<text x="117.30" y="392.60" font-size="8.55" fill="#000" stroke="#000" stroke-width="0.1" textLength="42.8" lengthAdjust="spacingAndGlyphs">Tumor type</text>
<rect x="117.20" y="397.10" width="10.90" height="10.00" fill="#777777"/>
<text x="130.80" y="405.20" font-size="8.65" fill="#1a1a1a" stroke="#1a1a1a" stroke-width="0.1">Cancer of unknown primary site</text>
<rect x="117.20" y="408.07" width="10.90" height="10.00" fill="#1fa84f"/>
<text x="130.80" y="416.17" font-size="8.65" fill="#1a1a1a" stroke="#1a1a1a" stroke-width="0.1">Genitourinary</text>
<rect x="117.20" y="419.04" width="10.90" height="10.00" fill="#0f4d4e"/>
<text x="130.80" y="427.14" font-size="8.65" fill="#1a1a1a" stroke="#1a1a1a" stroke-width="0.1">Hepato-gastrointestinal</text>
<rect x="117.20" y="430.01" width="10.90" height="10.00" fill="#7b5040"/>
<text x="130.80" y="438.11" font-size="8.65" fill="#1a1a1a" stroke="#1a1a1a" stroke-width="0.1">Lung</text>
<rect x="117.20" y="440.98" width="10.90" height="10.00" fill="#1b6fc2"/>
<text x="130.80" y="449.08" font-size="8.65" fill="#1a1a1a" stroke="#1a1a1a" stroke-width="0.1">ENT</text>
<rect x="117.20" y="451.95" width="10.90" height="10.00" fill="#4a3d9f"/>
<text x="130.80" y="460.05" font-size="8.65" fill="#1a1a1a" stroke="#1a1a1a" stroke-width="0.1">Sarcoma</text>
<rect x="117.20" y="462.92" width="10.90" height="10.00" fill="#f39a1f"/>
<text x="130.80" y="471.02" font-size="8.65" fill="#1a1a1a" stroke="#1a1a1a" stroke-width="0.1">Skin</text>
<rect x="117.20" y="473.89" width="10.90" height="10.00" fill="#c71f3b"/>
<text x="130.80" y="481.99" font-size="8.65" fill="#1a1a1a" stroke="#1a1a1a" stroke-width="0.1">Thymoma</text>
<text x="22.80" y="631.60" font-size="8.69" fill="#1a1a1a" stroke="#1a1a1a" stroke-width="0.1" textLength="245.5" lengthAdjust="spacingAndGlyphs">*Progressive disease due to appearance of new tumoral lesions</text>
<line x1="301.5" y1="387.7" x2="301.5" y2="614.9" stroke="#444" stroke-width="1.4"/>
<line x1="299.30" y1="417.10" x2="301.50" y2="417.10" stroke="#333" stroke-width="0.9"/>
<text x="298.40" y="420.10" font-size="8.5" fill="#333333" stroke="#333333" stroke-width="0.1" text-anchor="end">100</text>
<line x1="299.30" y1="463.95" x2="301.50" y2="463.95" stroke="#333" stroke-width="0.9"/>
<text x="298.40" y="466.95" font-size="8.5" fill="#333333" stroke="#333333" stroke-width="0.1" text-anchor="end">50</text>
<line x1="299.30" y1="510.80" x2="301.50" y2="510.80" stroke="#333" stroke-width="0.9"/>
<text x="298.40" y="513.80" font-size="8.5" fill="#333333" stroke="#333333" stroke-width="0.1" text-anchor="end">0</text>
<line x1="299.30" y1="557.65" x2="301.50" y2="557.65" stroke="#333" stroke-width="0.9"/>
<text x="298.40" y="560.65" font-size="8.5" fill="#333333" stroke="#333333" stroke-width="0.1" text-anchor="end">−50</text>
<line x1="299.30" y1="604.50" x2="301.50" y2="604.50" stroke="#333" stroke-width="0.9"/>
<text x="298.40" y="607.50" font-size="8.5" fill="#333333" stroke="#333333" stroke-width="0.1" text-anchor="end">−100</text>
<line x1="302.10" y1="492.06" x2="502.50" y2="492.06" stroke="#bdbdbd" stroke-width="0.9" stroke-dasharray="3,2.3"/>
<line x1="302.10" y1="538.91" x2="502.50" y2="538.91" stroke="#bdbdbd" stroke-width="0.9" stroke-dasharray="3,2.3"/>
<text x="497.30" y="489.50" font-size="8.47" fill="#b3b3b3" stroke="#b3b3b3" stroke-width="0.1" textLength="21.7" lengthAdjust="spacingAndGlyphs">+20%</text>
<text x="497.60" y="538.10" font-size="8.47" fill="#b3b3b3" stroke="#b3b3b3" stroke-width="0.1" textLength="21.4" lengthAdjust="spacingAndGlyphs">−30%</text>
<rect x="311.20" y="404.45" width="4.60" height="106.35" fill="#f3c13a"/>
<rect x="317.80" y="432.84" width="4.60" height="77.96" fill="#ec8a3b"/>
<rect x="324.40" y="464.23" width="4.60" height="46.57" fill="#b83131"/>
<rect x="331.00" y="487.28" width="4.60" height="23.52" fill="#4a8ec6"/>
<rect x="337.60" y="497.96" width="4.60" height="12.84" fill="#4a8ec6"/>
<rect x="344.20" y="504.24" width="4.60" height="6.56" fill="#ec8a3b"/>
<rect x="350.80" y="508.18" width="4.60" height="2.62" fill="#5c1424"/>
<rect x="357.40" y="510.80" width="4.60" height="0.80" fill="#c7da8e"/>
<rect x="364.00" y="510.80" width="4.60" height="0.84" fill="#f3c13a"/>
<rect x="370.60" y="510.80" width="4.60" height="0.94" fill="#4a8ec6"/>
<rect x="377.20" y="510.80" width="4.60" height="4.40" fill="#b83131"/>
<rect x="383.80" y="510.80" width="4.60" height="4.87" fill="#4a8ec6"/>
<rect x="390.40" y="510.80" width="4.60" height="5.62" fill="#5c1424"/>
<rect x="397.00" y="510.80" width="4.60" height="6.09" fill="#4a8ec6"/>
<rect x="403.60" y="510.80" width="4.60" height="7.21" fill="#5c1424"/>
<rect x="410.20" y="510.80" width="4.60" height="11.06" fill="#ee5b2b"/>
<rect x="416.80" y="510.80" width="4.60" height="15.93" fill="#b83131"/>
<rect x="423.40" y="510.80" width="4.60" height="17.90" fill="#4a8ec6"/>
<rect x="430.00" y="510.80" width="4.60" height="18.46" fill="#5c1424"/>
<rect x="436.60" y="510.80" width="4.60" height="25.58" fill="#b83131"/>
<rect x="443.20" y="510.80" width="4.60" height="28.67" fill="#b83131"/>
<rect x="449.80" y="510.80" width="4.60" height="34.67" fill="#b83131"/>
<rect x="456.40" y="510.80" width="4.60" height="39.54" fill="#4a8ec6"/>
<rect x="463.00" y="510.80" width="4.60" height="41.04" fill="#4a8ec6"/>
<rect x="469.60" y="510.80" width="4.60" height="43.95" fill="#b83131"/>
<rect x="476.20" y="510.80" width="4.60" height="55.85" fill="#b83131"/>
<rect x="482.80" y="510.80" width="4.60" height="59.97" fill="#4a8ec6"/>
<rect x="489.40" y="510.80" width="4.60" height="69.34" fill="#b83131"/>
<text x="280.50" y="509.50" font-size="8.7" fill="#000" stroke="#000" stroke-width="0.1" text-anchor="middle" textLength="119.5" lengthAdjust="spacingAndGlyphs" transform="rotate(-90 280.50 509.50)">Best change from baseline (%)</text>
<text x="267.40" y="386.60" font-size="10.2" fill="#000" stroke="#000" stroke-width="0.1" font-weight="bold">F</text>
<text x="339.00" y="393.20" font-size="8.6" fill="#000" stroke="#000" stroke-width="0.1" textLength="112.8" lengthAdjust="spacingAndGlyphs">Type of immunosuppressants</text>
<rect x="339.50" y="397.80" width="10.80" height="10.30" fill="#c7da8e"/>
<text x="352.80" y="405.40" font-size="8.65" fill="#1a1a1a" stroke="#1a1a1a" stroke-width="0.1">Corticoids</text>
<rect x="339.50" y="409.60" width="10.80" height="10.30" fill="#f3c13a"/>
<text x="352.80" y="417.25" font-size="8.65" fill="#1a1a1a" stroke="#1a1a1a" stroke-width="0.1">Corticoids + other</text>
<rect x="339.50" y="421.40" width="10.80" height="10.30" fill="#ec8a3b"/>
<text x="352.80" y="429.10" font-size="8.65" fill="#1a1a1a" stroke="#1a1a1a" stroke-width="0.1">Corticoids + abatacept</text>
<rect x="339.50" y="433.20" width="10.80" height="10.30" fill="#ee5b2b"/>
<text x="352.80" y="440.95" font-size="8.65" fill="#1a1a1a" stroke="#1a1a1a" stroke-width="0.1">Corticoids + abatacept + other</text>
<rect x="339.50" y="445.00" width="10.80" height="10.30" fill="#b83131"/>
<text x="352.80" y="452.80" font-size="8.65" fill="#1a1a1a" stroke="#1a1a1a" stroke-width="0.1">Corticoids + abatacept + ruxolitinib</text>
<rect x="339.50" y="456.80" width="10.80" height="10.30" fill="#5c1424"/>
<text x="352.80" y="464.65" font-size="8.65" fill="#1a1a1a" stroke="#1a1a1a" stroke-width="0.1">Corticoids + abatacept + ruxolitinib + other</text>
<rect x="339.50" y="468.60" width="10.80" height="10.30" fill="#4a8ec6"/>
<text x="352.80" y="476.50" font-size="8.65" fill="#1a1a1a" stroke="#1a1a1a" stroke-width="0.1">None</text>
</svg></body></html>
